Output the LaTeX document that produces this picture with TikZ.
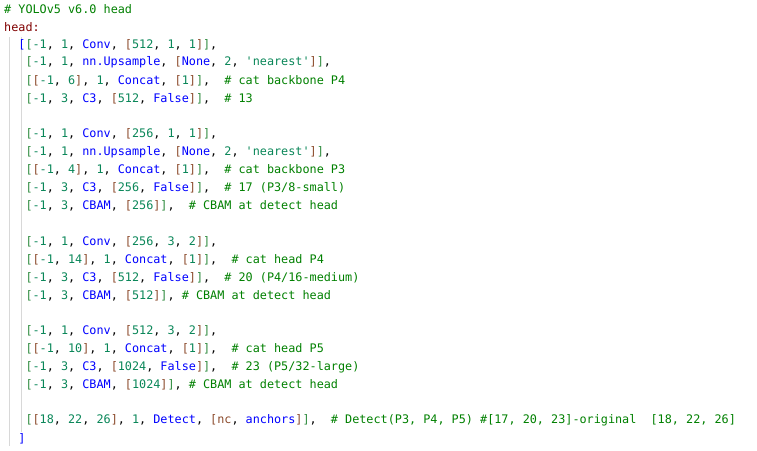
\documentclass[tikz,border=0pt]{standalone}
\usepackage{fontspec}
\newfontfamily\codefont[WordSpace={1,0,0}]{DejaVu Sans Mono}
\definecolor{cnum}{HTML}{098658}
\definecolor{ckey}{HTML}{0000FF}
\definecolor{cbr}{HTML}{8B4A2B}
\definecolor{cdep}{HTML}{2E8B3E}
\definecolor{ccom}{HTML}{008000}
\definecolor{chead}{HTML}{800000}
\definecolor{cguide}{HTML}{D8D8D8}
\newcommand\Gn[1]{{\color{cnum}#1}}
\newcommand\Bl[1]{{\color{ckey}#1}}
\newcommand\Brn[1]{{\color{cbr}#1}}
\newcommand\Dp[1]{{\color{cdep}#1}}
\newcommand\Cm[1]{{\color{ccom}#1}}
\begin{document}
\begin{tikzpicture}[x=1pt,y=-1pt,
  code/.style={anchor=west,inner sep=0pt,font=\codefont\fontsize{11.8}{14}\selectfont,text=black}]
\useasboundingbox (0,0) rectangle (757,450);
\draw[cguide,line width=0.8pt] (9,37) -- (9,446);
\draw[cguide,line width=0.8pt] (21,37) -- (21,432);
\def\L#1{9+17.9*#1}
\node[code] (l0) at (4,{\L0}) {\Cm{\# YOLOv5 v6.0 head}};
\node[code] (l1) at (4,{\L1}) {\color{chead}head:};
\node[code] (l2) at (18.2,{\L2}) {\Bl{[}\Dp{[}\Gn{-1}, \Gn{1}, \Bl{Conv}, \Brn{[}\Gn{512}, \Gn{1}, \Gn{1}\Brn{]}\Dp{]},};
\node[code] (l3) at (25.3,{\L3}) {\Dp{[}\Gn{-1}, \Gn{1}, \Bl{nn.Upsample}, \Brn{[}\Bl{None}, \Gn{2}, \Gn{'nearest'}\Brn{]}\Dp{]},};
\node[code] (l4) at (25.3,{\L4}) {\Dp{[}\Brn{[}\Gn{-1}, \Gn{6}\Brn{]}, \Gn{1}, \Bl{Concat}, \Brn{[}\Gn{1}\Brn{]}\Dp{]},\ \ \Cm{\# cat backbone P4}};
\node[code] (l5) at (25.3,{\L5}) {\Dp{[}\Gn{-1}, \Gn{3}, \Bl{C3}, \Brn{[}\Gn{512}, \Bl{False}\Brn{]}\Dp{]},\ \ \Cm{\# 13}};
\node[code] (l7) at (25.3,{\L7}) {\Dp{[}\Gn{-1}, \Gn{1}, \Bl{Conv}, \Brn{[}\Gn{256}, \Gn{1}, \Gn{1}\Brn{]}\Dp{]},};
\node[code] (l8) at (25.3,{\L8}) {\Dp{[}\Gn{-1}, \Gn{1}, \Bl{nn.Upsample}, \Brn{[}\Bl{None}, \Gn{2}, \Gn{'nearest'}\Brn{]}\Dp{]},};
\node[code] (l9) at (25.3,{\L9}) {\Dp{[}\Brn{[}\Gn{-1}, \Gn{4}\Brn{]}, \Gn{1}, \Bl{Concat}, \Brn{[}\Gn{1}\Brn{]}\Dp{]},\ \ \Cm{\# cat backbone P3}};
\node[code] (l10) at (25.3,{\L{10}}) {\Dp{[}\Gn{-1}, \Gn{3}, \Bl{C3}, \Brn{[}\Gn{256}, \Bl{False}\Brn{]}\Dp{]},\ \ \Cm{\# 17 (P3/8-small)}};
\node[code] (l11) at (25.3,{\L{11}}) {\Dp{[}\Gn{-1}, \Gn{3}, \Bl{CBAM}, \Brn{[}\Gn{256}\Brn{]}\Dp{]},\ \ \Cm{\# CBAM at detect head}};
\node[code] (l13) at (25.3,{\L{13}}) {\Dp{[}\Gn{-1}, \Gn{1}, \Bl{Conv}, \Brn{[}\Gn{256}, \Gn{3}, \Gn{2}\Brn{]}\Dp{]},};
\node[code] (l14) at (25.3,{\L{14}}) {\Dp{[}\Brn{[}\Gn{-1}, \Gn{14}\Brn{]}, \Gn{1}, \Bl{Concat}, \Brn{[}\Gn{1}\Brn{]}\Dp{]},\ \ \Cm{\# cat head P4}};
\node[code] (l15) at (25.3,{\L{15}}) {\Dp{[}\Gn{-1}, \Gn{3}, \Bl{C3}, \Brn{[}\Gn{512}, \Bl{False}\Brn{]}\Dp{]},\ \ \Cm{\# 20 (P4/16-medium)}};
\node[code] (l16) at (25.3,{\L{16}}) {\Dp{[}\Gn{-1}, \Gn{3}, \Bl{CBAM}, \Brn{[}\Gn{512}\Brn{]}\Dp{]}, \Cm{\# CBAM at detect head}};
\node[code] (l18) at (25.3,{\L{18}}) {\Dp{[}\Gn{-1}, \Gn{1}, \Bl{Conv}, \Brn{[}\Gn{512}, \Gn{3}, \Gn{2}\Brn{]}\Dp{]},};
\node[code] (l19) at (25.3,{\L{19}}) {\Dp{[}\Brn{[}\Gn{-1}, \Gn{10}\Brn{]}, \Gn{1}, \Bl{Concat}, \Brn{[}\Gn{1}\Brn{]}\Dp{]},\ \ \Cm{\# cat head P5}};
\node[code] (l20) at (25.3,{\L{20}}) {\Dp{[}\Gn{-1}, \Gn{3}, \Bl{C3}, \Brn{[}\Gn{1024}, \Bl{False}\Brn{]}\Dp{]},\ \ \Cm{\# 23 (P5/32-large)}};
\node[code] (l21) at (25.3,{\L{21}}) {\Dp{[}\Gn{-1}, \Gn{3}, \Bl{CBAM}, \Brn{[}\Gn{1024}\Brn{]}\Dp{]}, \Cm{\# CBAM at detect head}};
\node[code] (l23) at (25.3,{\L{23}}) {\Dp{[}\Brn{[}\Gn{18}, \Gn{22}, \Gn{26}\Brn{]}, \Gn{1}, \Bl{Detect}, \Brn{[}\Brn{nc}, \Bl{anchors}\Brn{]}\Dp{]},\ \ \Cm{\# Detect(P3, P4, P5) \#[17, 20, 23]-original\ \ [18, 22, 26]}};
\node[code] (l24) at (18.2,{\L{24}}) {\Bl{]}};
\end{tikzpicture}
\end{document}
